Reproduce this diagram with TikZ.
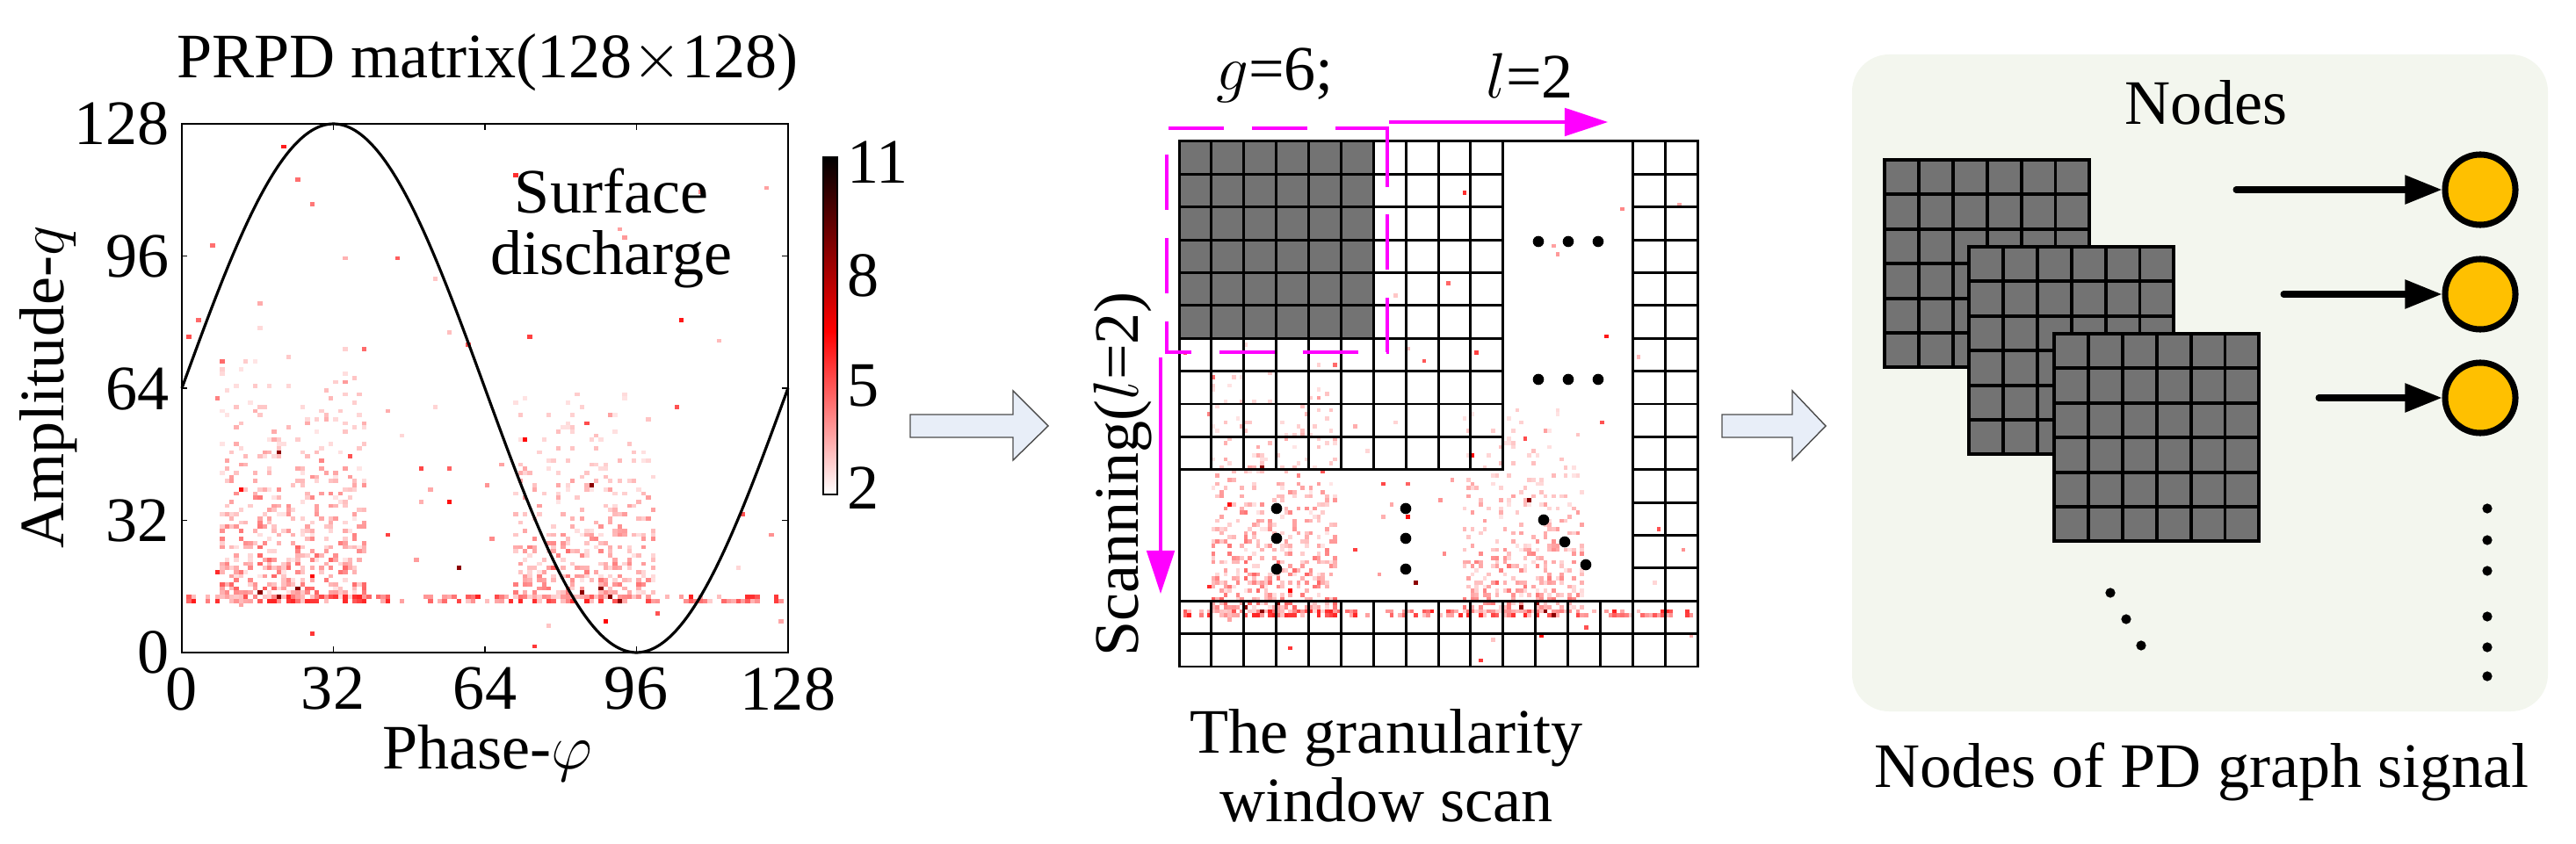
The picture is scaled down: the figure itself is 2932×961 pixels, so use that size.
\documentclass[tikz,border=0pt]{standalone}
\usepackage{fontspec}
\setmainfont{Liberation Serif}
\usetikzlibrary{arrows.meta}
\definecolor{blockfill}{HTML}{E8EEF8}
\definecolor{panelfill}{HTML}{F3F6EE}
\definecolor{nodefill}{HTML}{FFC000}
\definecolor{cellgray}{HTML}{737373}
\definecolor{mag}{HTML}{FF00FF}
\newcommand{\prpddots}{%
  \pgfmathsetseed{11}%
  \foreach \i in {1,...,520}{%
    \pgfmathsetmacro{\px}{int(8+31*rnd)}%
    \pgfmathsetmacro{\py}{int(13+68*rnd*rnd)}%
    \pgfmathsetmacro{\cc}{int(10+(85-\py)*0.8*rnd)}%
    \fill[red!\cc] (\px,\py) rectangle ++(1,1);}%
  \foreach \i in {1,...,380}{%
    \pgfmathsetmacro{\px}{int(70+30*rnd)}%
    \pgfmathsetmacro{\py}{int(13+55*rnd*rnd)}%
    \pgfmathsetmacro{\cc}{int(10+(75-\py)*0.8*rnd)}%
    \fill[red!\cc] (\px,\py) rectangle ++(1,1);}%
  \foreach \i in {1,...,160}{%
    \pgfmathsetmacro{\px}{int(1+126*rnd)}%
    \pgfmathsetmacro{\py}{int(12+1.6*rnd)}%
    \pgfmathsetmacro{\cc}{int(20+70*rnd)}%
    \fill[red!\cc] (\px,\py) rectangle ++(1,1);}%
  \foreach \i in {1,...,70}{%
    \pgfmathsetmacro{\px}{int(1+126*rnd)}%
    \pgfmathsetmacro{\py}{int(1+125*rnd)}%
    \pgfmathsetmacro{\cc}{int(15+85*rnd)}%
    \fill[red!\cc] (\px,\py) rectangle ++(1,1);}%
  \foreach \px/\py in {16/14,20/13,24/15,84/14,88/15,90/13,92/12,20/48,86/40,58/20}{%
    \fill[red!55!black] (\px,\py) rectangle ++(1,1);}%
}
% #1 x0, #2 x1, #3 y0, #4 y1 : unit grid lines
\newcommand{\unitgrid}[5][]{%
  \foreach \gi in {#2,...,#3}{\draw[#1] (\gi,#4) -- (\gi,#5);}%
  \foreach \gj in {#4,...,#5}{\draw[#1] (#2,\gj) -- (#3,\gj);}%
}
\tikzset{
  lbl/.style={font=\fontsize{20.5}{24}\selectfont, inner sep=1pt},
  gridline/.style={line width=0.85pt, draw=black, line cap=rect},
  bigarrow/.style={draw=black!70, line width=0.4pt, fill=blockfill},
  magline/.style={draw=mag, line width=1pt},
  dotmark/.style={circle, fill=black, inner sep=0pt, minimum size=3.6pt},
  sdot/.style={circle, fill=black, inner sep=0pt, minimum size=3.2pt},
  nodecirc/.style={circle, draw=black, line width=2pt, fill=nodefill, minimum size=0.8cm},
  narrow/.style={line width=2pt, line cap=round, -{Triangle[length=12pt,width=9pt]}},
}
\begin{document}
\begin{tikzpicture}[x=0.01cm,y=-0.01cm]
\useasboundingbox (0,0) rectangle (2932,961);
% ---------- left panel ----------
\node[lbl] (title) at (555,71) {PRPD matrix(128$\times$128)};
\begin{scope}[shift={(207,743)}, xscale=5.39, yscale=-4.703]
  \prpddots
  \draw[line width=0.9pt] plot[domain=0:128, samples=120, smooth] (\x,{64+64*sin(2.8125*\x)});
  \draw[line width=0.4pt] (0,0) rectangle (128,128);
  \foreach \t in {32,64,96}{
    \draw[line width=0.4pt] (\t,0) -- (\t,1.5) (\t,128) -- (\t,126.5)
      (0,\t) -- (1.2,\t) (128,\t) -- (126.8,\t);}
\end{scope}
\foreach \v/\yy in {0/743,32/593,64/443,96/292,128/141}{
  \node[lbl, anchor=east] (yt\v) at (197,\yy) {\v};}
\foreach \v/\xx in {0/207,32/379,64/552,96/724,128/897}{
  \node[lbl, anchor=north] (xt\v) at (\xx,756) {\v};}
\node[lbl] (xlab) at (555,858) {Phase-$\varphi$};
\node[lbl, rotate=90] (ylab) at (55,441) {Amplitude-$q$};
\node[lbl, align=center, text width=4cm] (surf) at (696,260) {Surface\\[-4pt]discharge};
% colorbar
\shade[bottom color=white, top color=red] (937,563) rectangle (953,377);
\shade[bottom color=red, top color=black] (937,377) rectangle (953,179);
\draw[line width=0.4pt] (937,179) rectangle (953,563);
\foreach \v/\yy in {11/185,8/314,5/439,2/556}{
  \node[lbl, anchor=west] (cb\v) at (960,\yy) {\v};}
% ---------- arrow 1 ----------
\draw[bigarrow] (1036,472) -- (1153,472) -- (1153,445) -- (1193,485) -- (1153,524) -- (1153,498) -- (1036,498) -- cycle;
% ---------- middle panel ----------
\begin{scope}[shift={(1342,759)}, xscale=4.609, yscale=-4.672]
  \prpddots
\end{scope}
\begin{scope}[shift={(1342,161)}, xscale=36.875, yscale=37.375]
  \fill[cellgray] (0,0) rectangle (6,6);
  \unitgrid[gridline]{0}{10}{0}{10}
  \unitgrid[gridline]{14}{16}{0}{16}
  \unitgrid[gridline]{0}{16}{14}{16}
  \draw[gridline] (0,0) rectangle (16,16);
  \draw[gridline] (10,0) -- (14,0) -- (14,14) -- (0,14);
\end{scope}
\foreach \xx/\yy [count=\k] in {1751/275,1785/275,1819/275,1751/432,1785/432,1819/432,
  1453/579,1453/613,1453/648,1600/579,1600/613,1600/648,1757/592,1781/617,1805/643}{
  \node[dotmark] (md\k) at (\xx,\yy) {};}
\draw[magline, dash pattern=on 18pt off 9pt] (1579,150) -- (1579,146) -- (1328,146) -- (1328,401) -- (1579,401) -- (1579,146);
\coordinate (ha) at (1581,139);
\coordinate (hb) at (1830,139);
\draw[magline, -{Triangle[length=14pt,width=9pt]}] (ha) -- (hb);
\coordinate (va) at (1321,407);
\coordinate (vb) at (1321,676);
\draw[magline, -{Triangle[length=14pt,width=9pt]}] (va) -- (vb);
\node[lbl] (glab) at (1451,86) {$g$=6;};
\node[lbl] (llab) at (1741,86) {$l$=2};
\node[lbl, rotate=90] (scan) at (1278,540) {Scanning($l$=2)};
\node[lbl, align=center] (gran) at (1578,872) {The granularity\\[-2pt]window scan};
% ---------- arrow 2 ----------
\draw[bigarrow] (1960,472) -- (2040,472) -- (2040,445) -- (2078,485) -- (2040,524) -- (2040,498) -- (1960,498) -- cycle;
% ---------- right panel ----------
\fill[panelfill, rounded corners=12pt] (2108,62) rectangle (2900,810);
\node[lbl] (nodestitle) at (2511,117) {Nodes};
\foreach \gx/\gy in {2145/182,2241/281,2338/380}{
  \begin{scope}[shift={(\gx,\gy)}, xscale=38.9, yscale=39.4]
    \fill[cellgray] (0,0) rectangle (6,6);
    \unitgrid[line width=1.1pt, line cap=rect]{0}{6}{0}{6}
  \end{scope}}
\foreach \yy/\xs [count=\k] in {216/2545,335/2599,453/2639}{
  \node[nodecirc] (n\k) at (2823,\yy) {};
  \coordinate (s\k) at (\xs,\yy);
  \draw[narrow] (s\k) -- (n\k.west);}
\foreach \yy [count=\k] in {579,615,650,702,737,770}{
  \node[sdot] (rd\k) at (2831,\yy) {};}
\foreach \xx/\yy [count=\k] in {2402/675,2420/705,2437/735}{
  \node[sdot] (dd\k) at (\xx,\yy) {};}
\node[lbl] (pdlab) at (2506,879) {Nodes of PD graph signal};
\end{tikzpicture}
\end{document}
